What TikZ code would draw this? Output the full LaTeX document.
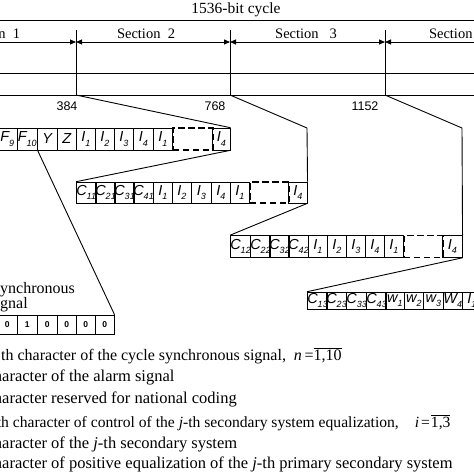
\documentclass[tikz,border=0pt]{standalone}
\usepackage{fontspec}
\setmainfont{Liberation Serif}
\newfontfamily\arialf{Liberation Sans}
\usetikzlibrary{arrows.meta}
\newcommand{\sbs}[2]{#1\raisebox{-0.55ex}{\fontsize{9}{9}\selectfont #2}}
\newcommand{\ovl}[1]{$\overline{\mbox{#1}}$}
\begin{document}
\begin{tikzpicture}[x=1pt,y=-1pt,
  ln/.style={line width=0.9pt},
  dim/.style={line width=0.8pt, {Triangle[length=6pt,width=5pt]}-{Triangle[length=6pt,width=5pt]}},
  cell/.style={draw, line width=0.55pt, anchor=west, inner sep=0pt, font=\arialf\itshape\fontsize{14.5}{14.5}\selectfont},
  gapbox/.style={draw, line width=1.7pt, dash pattern=on 6.5pt off 3.5pt, anchor=west, inner sep=0pt},
  digit/.style={draw, line width=0.55pt, anchor=west, inner sep=0pt, font=\arialf\bfseries\fontsize{8.5}{8.5}\selectfont},
  seclab/.style={font=\fontsize{14.5}{14.5}\selectfont, anchor=base},
  numlab/.style={font=\arialf\fontsize{12.5}{12.5}\selectfont},
  legend/.style={font=\fontsize{16.5}{16.5}\selectfont, anchor=base west, inner sep=0pt}]
\useasboundingbox (0,0) rectangle (474,474);

% ---- top cycle part
\node[font=\fontsize{15.5}{15.5}\selectfont] (cyc) at (236,10) {1536-bit cycle};
\draw[ln] (-10,20) -- (490,20);
\draw[ln] (-10,73) -- (490,73);
\draw[ln] (-10,95) -- (490,95);
\coordinate (t1) at (76,30);  \coordinate (v1) at (76,95);
\coordinate (t2) at (230,30); \coordinate (v2) at (230,95);
\coordinate (t3) at (385,30); \coordinate (v3) at (385,95);
\coordinate (t0) at (-78,30); \coordinate (t4) at (540,30);
\draw[ln] (t1) -- (v1);
\draw[ln] (t2) -- (v2);
\draw[ln] (t3) -- (v3);
\draw[dim] ([yshift=-12pt]t0) -- ([yshift=-12pt]t1);
\draw[dim] ([yshift=-12pt]t1) -- ([yshift=-12pt]t2);
\draw[dim] ([yshift=-12pt]t2) -- ([yshift=-12pt]t3);
\draw[dim] ([yshift=-12pt]t3) -- ([yshift=-12pt]t4);
\node[seclab] (s1) at (-9,38) {Section\ \ 1};
\node[seclab] (s2) at (146,38) {Section\ \ 2};
\node[seclab] (s3) at (306,38) {Section\ \ \ 3};
\node[seclab] (s4) at (458,38) {Section\ \ 4};
\node[numlab] (n1) at (67,106) {384};
\node[numlab] (n2) at (215,106) {768};
\node[numlab] (n3) at (365,106) {1152};

% ---- row 1
\foreach \a/\b/\t [count=\i] in {-3/17/{\sbs{F}{9}},17/37/{\sbs{F}{10}},37/57/{Y},57/76/{Z},76/95/{\sbs{I}{1}},95/114/{\sbs{I}{2}},114/133/{\sbs{I}{3}},133/153/{\sbs{I}{4}},153/172/{\sbs{I}{1}}}
  \node[cell, minimum width={(\b-\a)*1pt}, minimum height=22pt] (r1c\i) at (\a,139) {\t};
\node[gapbox, minimum width=40pt, minimum height=22pt] (r1g) at (172,139) {};
\node[cell, minimum width=18pt, minimum height=22pt] (r1c11) at (212,139) {\sbs{I}{4}};

% ---- row 2
\foreach \a/\b/\t [count=\i] in {76/95/{\sbs{C}{11}},95/114/{\sbs{C}{21}},114/133/{\sbs{C}{31}},133/153/{\sbs{C}{41}},153/172/{\sbs{I}{1}},172/191/{\sbs{I}{2}},191/211/{\sbs{I}{3}},211/230/{\sbs{I}{4}},230/249/{\sbs{I}{1}}}
  \node[cell, minimum width={(\b-\a)*1pt}, minimum height=21pt] (r2c\i) at (\a,192.5) {\t};
\node[gapbox, minimum width=39pt, minimum height=21pt] (r2g) at (249,192.5) {};
\node[cell, minimum width=19pt, minimum height=21pt] (r2c11) at (288,192.5) {\sbs{I}{4}};

% ---- row 3
\foreach \a/\b/\t [count=\i] in {230/250/{\sbs{C}{12}},250/269/{\sbs{C}{22}},269/288/{\sbs{C}{32}},288/308/{\sbs{C}{42}},308/327/{\sbs{I}{1}},327/346/{\sbs{I}{2}},346/365/{\sbs{I}{3}},365/384/{\sbs{I}{4}},384/403/{\sbs{I}{1}}}
  \node[cell, minimum width={(\b-\a)*1pt}, minimum height=22pt] (r3c\i) at (\a,246.5) {\t};
\node[gapbox, minimum width=39pt, minimum height=22pt] (r3g) at (403,246.5) {};
\node[cell, minimum width=20pt, minimum height=22pt] (r3c11) at (442,246.5) {\sbs{I}{4}};

% ---- row 4
\foreach \a/\b/\t [count=\i] in {307/326/{\sbs{C}{13}},326/346/{\sbs{C}{23}},346/366/{\sbs{C}{33}},366/385/{\sbs{C}{43}},385/404/{\sbs{w}{1}},404/423/{\sbs{w}{2}},423/443/{\sbs{w}{3}},443/462/{\sbs{W}{4}},462/481/{\sbs{I}{1}}}
  \node[cell, minimum width={(\b-\a)*1pt}, minimum height=17pt] (r4c\i) at (\a,300.5) {\t};

% ---- sync row
\foreach \a/\b/\t [count=\i] in {-3/17/0,17/37/1,37/57/0,57/76/0,76/95/0,95/114/0}
  \node[digit, minimum width={(\b-\a)*1pt}, minimum height=19pt] (sy\i) at (\a,324.5) {\t};
\node[font=\fontsize{16}{16}\selectfont, anchor=base west, inner sep=0pt] (syt1) at (0,293) {\llap{s}ynchronous};
\node[font=\fontsize{16}{16}\selectfont, anchor=base west, inner sep=0pt] (syt2) at (0,308) {\llap{si}gnal};

% ---- connectors
\coordinate (k2) at (307,128);
\coordinate (k3) at (462,128);
\draw[ln] (v1) -- (r1c11.north east);
\draw[ln] (r1c11.south east) -- (r2c1.north west);
\draw[ln] (v2) -- (k2) -- (r2c11.north east);
\draw[ln] (r2c11.south east) -- (r3c1.north west);
\draw[ln] (v3) -- (k3) -- (r3c11.north east);
\draw[ln] (r3c11.south east) -- (r4c1.north west);
\draw[ln] (r1c2.south east) -- (sy6.north east);

% ---- legend
\node[legend, font=\fontsize{16}{16}\selectfont] (l1) at (1,360) {\llap{\textit{n}-\hspace{3pt}}th character of the cycle synchronous signal,\ \ \textit{n}\,=\ovl{1,10}};
\node[legend] (l2) at (2,381) {\llap{ch}aracter of the alarm signal};
\node[legend] (l3) at (2,403) {\llap{ch}aracter reserved for national coding};
\node[legend, font=\fontsize{15.6}{15.6}\selectfont] (l4) at (1,427) {\llap{\textit{i}-t}h character of control of the \textit{j}-th secondary system equalization,\hspace{16pt}\textit{i}\hspace{2pt}=\hspace{1pt}\ovl{1,3}};
\node[legend] (l5) at (2,448) {\llap{ch}aracter of the \textit{j}-th secondary system};
\node[legend] (l6) at (2,468) {\llap{ch}aracter of positive equalization of the \textit{j}-th primary secondary system};
\end{tikzpicture}
\end{document}
